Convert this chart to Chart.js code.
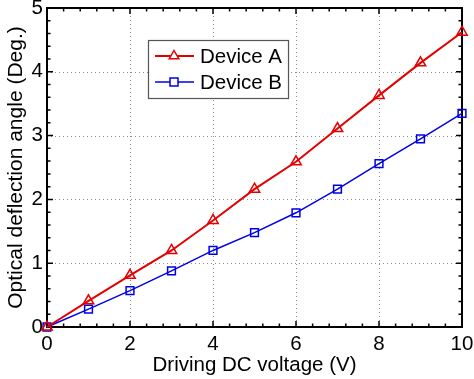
<!DOCTYPE html>
<html><head><meta charset="utf-8">
<script src="https://cdn.jsdelivr.net/npm/chart.js@4"></script>
<style>html,body{margin:0;padding:0;background:#fff}#wrap{width:474px;height:379px}</style>
</head><body><div id="wrap"><canvas id="c" width="474" height="379"></canvas></div>
<script>
const voltage = [0,1,2,3,4,5,6,7,8,9,10];
const deviceA = [0,0.41,0.81,1.2,1.67,2.16,2.59,3.11,3.63,4.14,4.62];
const deviceB = [0,0.28,0.57,0.88,1.2,1.48,1.79,2.16,2.56,2.95,3.35];
const seriesNames = ['Device A','Device B'];
const xTicks = [0,2,4,6,8,10];
const yTicks = [0,1,2,3,4,5];
const xTitle = 'Driving DC voltage (V)';
const yTitle = 'Optical deflection angle (Deg.)';

const FONT = "'Liberation Sans', Arial, sans-serif";
const RED = 'rgb(228,0,0)';
const BLUE = 'rgb(0,0,230)';

const frame = {
  id: 'frame',
  beforeDatasetsDraw(chart) {
    const {ctx, chartArea: a, scales: {x, y}} = chart;
    ctx.save();
    ctx.strokeStyle = '#8c8c8c';
    ctx.lineWidth = 1;
    ctx.setLineDash([1, 3]);
    xTicks.forEach(v => {
      if (v === xTicks[0] || v === xTicks[xTicks.length-1]) return;
      const px = Math.round(x.getPixelForValue(v)) + 0.5;
      ctx.beginPath(); ctx.moveTo(px, a.top); ctx.lineTo(px, a.bottom); ctx.stroke();
    });
    yTicks.forEach(v => {
      if (v === yTicks[0] || v === yTicks[yTicks.length-1]) return;
      const py = Math.round(y.getPixelForValue(v)) + 0.5;
      ctx.beginPath(); ctx.moveTo(a.left, py); ctx.lineTo(a.right, py); ctx.stroke();
    });
    ctx.setLineDash([]);
    ctx.strokeStyle = '#000';
    ctx.lineWidth = 1.5;
    const xMinorStep = 0.4, yMinorStep = 0.2;
    for (let i = 0; i <= Math.round((x.max - x.min) / xMinorStep); i++) {
      const v = x.min + i * xMinorStep;
      const major = xTicks.some(t => Math.abs(t - v) < 1e-6);
      const len = major ? 6 : 3.5;
      const px = x.getPixelForValue(v);
      ctx.beginPath();
      ctx.moveTo(px, a.bottom); ctx.lineTo(px, a.bottom - len);
      ctx.moveTo(px, a.top); ctx.lineTo(px, a.top + len);
      ctx.stroke();
    }
    for (let i = 0; i <= Math.round((y.max - y.min) / yMinorStep); i++) {
      const v = y.min + i * yMinorStep;
      const major = yTicks.some(t => Math.abs(t - v) < 1e-6);
      const len = major ? 6 : 3.5;
      const py = y.getPixelForValue(v);
      ctx.beginPath();
      ctx.moveTo(a.left, py); ctx.lineTo(a.left + len, py);
      ctx.moveTo(a.right, py); ctx.lineTo(a.right - len, py);
      ctx.stroke();
    }
    ctx.lineWidth = 2;
    ctx.strokeRect(a.left, a.top, a.right - a.left, a.bottom - a.top);
    ctx.restore();
  },
  afterDraw(chart) {
    const {ctx} = chart;
    const bx = 148.5, by = 40.5, bw = 140, bh = 58;
    ctx.save();
    ctx.fillStyle = '#fff';
    ctx.fillRect(bx, by, bw, bh);
    ctx.strokeStyle = '#555';
    ctx.lineWidth = 1.2;
    ctx.strokeRect(bx, by, bw, bh);
    const rows = [56, 82];
    chart.data.datasets.forEach((ds, i) => {
      const yy = rows[i];
      ctx.strokeStyle = ds.borderColor;
      ctx.lineWidth = ds.borderWidth;
      ctx.beginPath(); ctx.moveTo(155, yy); ctx.lineTo(194, yy); ctx.stroke();
      const cx = 174;
      ctx.lineWidth = 1.5;
      ctx.fillStyle = '#fff';
      ctx.beginPath();
      if (ds.pointStyle === 'triangle') {
        const r = 5.5;
        ctx.moveTo(cx, yy - r);
        ctx.lineTo(cx + r * 0.866, yy + r * 0.5);
        ctx.lineTo(cx - r * 0.866, yy + r * 0.5);
        ctx.closePath();
      } else {
        ctx.rect(cx - 4, yy - 4, 8, 8);
      }
      ctx.fill(); ctx.stroke();
      ctx.fillStyle = '#000';
      ctx.font = '20.5px ' + FONT;
      ctx.textBaseline = 'middle';
      ctx.textAlign = 'left';
      ctx.fillText(ds.label, 200, yy + 1);
    });
    ctx.restore();
  }
};

const mk = (vals) => voltage.map((v, i) => ({x: v, y: vals[i]}));

new Chart(document.getElementById('c'), {
  type: 'line',
  data: {
    datasets: [
      {label: seriesNames[0], data: mk(deviceA), borderColor: RED, borderWidth: 2,
       pointStyle: 'triangle', pointRadius: 6, pointBorderWidth: 1.5,
       pointBackgroundColor: 'rgba(0,0,0,0)', pointBorderColor: RED, clip: false, tension: 0},
      {label: seriesNames[1], data: mk(deviceB), borderColor: BLUE, borderWidth: 1.5,
       pointStyle: 'rect', pointRadius: 5.5, pointBorderWidth: 1.5,
       pointBackgroundColor: 'rgba(0,0,0,0)', pointBorderColor: BLUE, clip: false, tension: 0}
    ]
  },
  options: {
    responsive: false,
    animation: false,
    devicePixelRatio: 1,
    layout: {padding: {left: 0, top: 8, right: 12, bottom: 0}},
    plugins: {legend: {display: false}, tooltip: {enabled: false}},
    scales: {
      x: {
        type: 'linear', min: 0, max: 10,
        afterBuildTicks: s => { s.ticks = xTicks.map(v => ({value: v})); },
        afterFit: s => { s.height = 52; s.paddingLeft = 0; s.paddingRight = 0; },
        grid: {display: false, drawTicks: false},
        border: {display: false},
        ticks: {color: '#000', font: {family: FONT, size: 20.5}, padding: 5, maxRotation: 0, autoSkip: false},
        title: {display: true, text: xTitle, color: '#000', font: {family: FONT, size: 20.5}, padding: {top: 0, bottom: 1}}
      },
      y: {
        type: 'linear', min: 0, max: 5,
        afterBuildTicks: s => { s.ticks = yTicks.map(v => ({value: v})); },
        afterFit: s => { s.width = 47; s.paddingTop = 0; s.paddingBottom = 0; },
        grid: {display: false, drawTicks: false},
        border: {display: false},
        ticks: {color: '#000', font: {family: FONT, size: 20.5}, padding: 4, autoSkip: false},
        title: {display: true, text: yTitle, color: '#000', font: {family: FONT, size: 21}, padding: {top: 4, bottom: 0}}
      }
    }
  },
  plugins: [frame]
});
</script>
</body></html>
